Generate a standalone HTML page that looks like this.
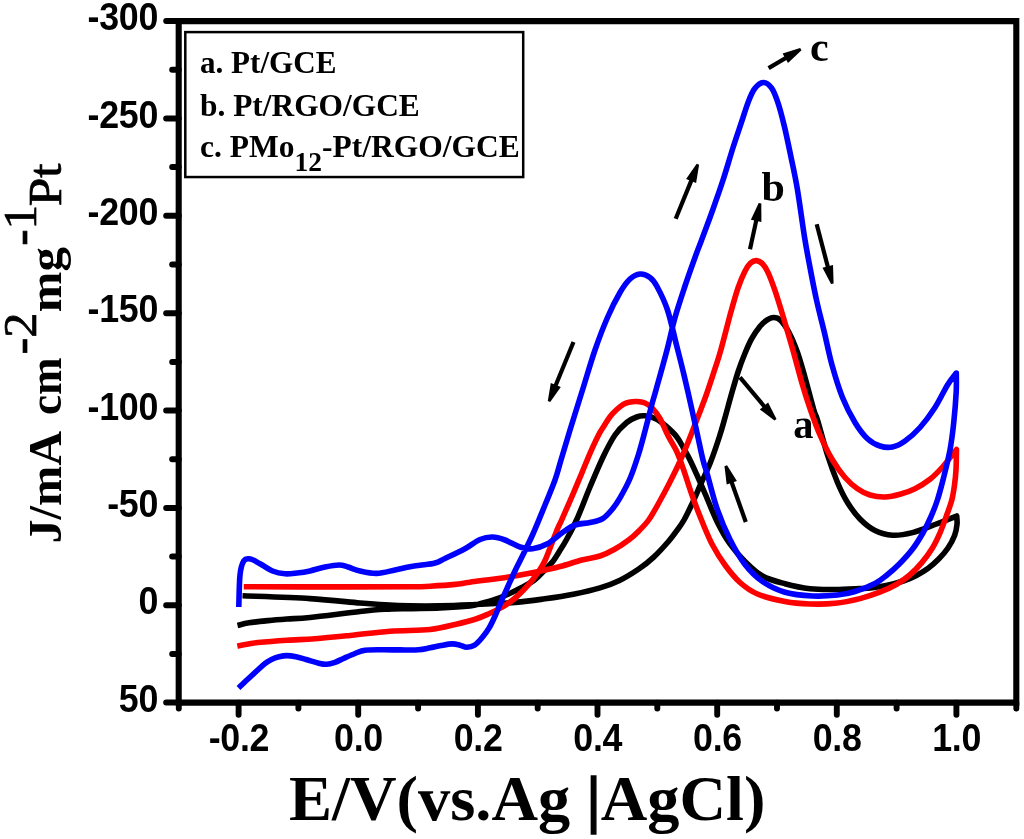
<!DOCTYPE html>
<html><head><meta charset="utf-8"><title>CV curves</title>
<style>
html,body{margin:0;padding:0;background:#fff;}
svg{display:block;}
text{fill:#000;}
.tk{font-family:"Liberation Sans",Arial,sans-serif;font-weight:bold;font-size:35.8px;letter-spacing:-0.3px;}
.xt{font-family:"Liberation Serif","Times New Roman",serif;font-weight:bold;font-size:63.5px;}
.yb{font-family:"Liberation Serif","Times New Roman",serif;font-weight:bold;font-size:46.5px;}
.yr{font-family:"Liberation Serif","Times New Roman",serif;font-weight:normal;font-size:46.5px;stroke:#000;stroke-width:0.7px;}
.lg{font-family:"Liberation Serif","Times New Roman",serif;font-weight:bold;font-size:31.5px;}
.lb{font-family:"Liberation Serif","Times New Roman",serif;font-weight:bold;font-size:42px;}
</style></head>
<body>
<svg width="1024" height="839" viewBox="0 0 1024 839">
<rect width="1024" height="839" fill="#fff"/>
<path d="M242.50 595.80 C253.75 596.27 290.42 597.40 310.00 598.60 C329.58 599.80 347.50 601.97 360.00 603.00 C372.50 604.03 376.67 604.33 385.00 604.80 C393.33 605.27 400.83 605.63 410.00 605.80 C419.17 605.97 430.00 605.97 440.00 605.80 C450.00 605.63 457.47 605.37 470.00 604.80 C482.53 604.23 502.70 603.40 515.20 602.40 C527.70 601.40 535.32 600.17 545.00 598.80 C554.68 597.43 564.13 596.02 573.30 594.20 C582.47 592.38 592.30 590.18 600.00 587.90 C607.70 585.62 612.98 583.68 619.50 580.50 C626.02 577.32 633.40 572.70 639.10 568.80 C644.80 564.90 648.82 561.65 653.70 557.10 C658.58 552.55 664.33 546.22 668.40 541.50 C672.47 536.78 675.50 532.38 678.10 528.80 C680.70 525.22 681.77 523.97 684.00 520.00 C686.23 516.03 688.67 511.08 691.50 505.00 C694.33 498.92 697.82 490.67 701.00 483.50 C704.18 476.33 707.55 469.75 710.60 462.00 C713.65 454.25 716.92 444.33 719.30 437.00 C721.68 429.67 722.90 425.03 724.90 418.00 C726.90 410.97 729.08 402.55 731.30 394.80 C733.52 387.05 735.95 378.33 738.20 371.50 C740.45 364.67 742.55 359.27 744.80 353.80 C747.05 348.33 749.18 343.27 751.70 338.70 C754.22 334.13 757.38 329.48 759.90 326.40 C762.42 323.32 764.52 321.68 766.80 320.20 C769.08 318.72 771.32 317.50 773.60 317.50 C775.88 317.50 777.93 317.70 780.50 320.20 C783.07 322.70 786.17 327.12 789.00 332.50 C791.83 337.88 794.83 345.00 797.50 352.50 C800.17 360.00 802.29 367.96 805.00 377.50 C807.71 387.04 811.67 402.67 813.75 409.75 C815.83 416.83 815.21 412.46 817.50 420.00 C819.79 427.54 824.17 444.58 827.50 455.00 C830.83 465.42 834.17 474.58 837.50 482.50 C840.83 490.42 843.75 496.42 847.50 502.50 C851.25 508.58 855.42 514.33 860.00 519.00 C864.58 523.67 869.58 527.80 875.00 530.50 C880.42 533.20 886.25 534.85 892.50 535.20 C898.75 535.55 905.42 534.38 912.50 532.60 C919.58 530.82 927.63 527.27 935.00 524.50 C942.37 521.73 953.08 517.42 956.70 516.00 C956.75 517.42 957.35 521.27 957.00 524.50 C956.65 527.73 956.13 531.45 954.60 535.40 C953.07 539.35 950.45 544.27 947.80 548.20 C945.15 552.13 941.97 555.67 938.70 559.00 C935.43 562.33 931.92 565.47 928.20 568.20 C924.48 570.93 920.55 573.27 916.40 575.40 C912.25 577.53 908.33 579.30 903.30 581.00 C898.27 582.70 891.67 584.43 886.20 585.60 C880.73 586.77 874.87 587.50 870.50 588.00 C866.13 588.50 865.92 588.35 860.00 588.60 C854.08 588.85 843.33 589.48 835.00 589.50 C826.67 589.52 818.33 589.71 810.00 588.75 C801.67 587.79 792.92 585.88 785.00 583.75 C777.08 581.62 769.17 579.71 762.50 576.00 C755.83 572.29 750.42 566.83 745.00 561.50 C739.58 556.17 734.58 550.50 730.00 544.00 C725.42 537.50 721.67 530.92 717.50 522.50 C713.33 514.08 708.47 501.50 705.00 493.50 C701.53 485.50 699.20 480.08 696.70 474.50 C694.20 468.92 692.23 464.47 690.00 460.00 C687.77 455.53 685.52 451.58 683.30 447.70 C681.08 443.82 679.47 440.20 676.70 436.70 C673.93 433.20 670.03 429.62 666.70 426.70 C663.37 423.78 660.32 421.02 656.70 419.20 C653.08 417.38 648.33 416.17 645.00 415.80 C641.67 415.43 639.75 415.88 636.70 417.00 C633.65 418.12 630.32 419.50 626.70 422.50 C623.08 425.50 618.90 429.33 615.00 435.00 C611.10 440.67 607.47 447.83 603.30 456.50 C599.13 465.17 594.38 476.58 590.00 487.00 C585.62 497.42 581.00 510.08 577.00 519.00 C573.00 527.92 569.00 535.00 566.00 540.50 C563.00 546.00 561.13 548.58 559.00 552.00 C556.87 555.42 555.03 558.57 553.20 561.00 C551.37 563.43 551.07 563.48 548.00 566.60 C544.93 569.72 539.18 576.22 534.80 579.70 C530.42 583.18 526.07 585.12 521.70 587.50 C517.33 589.88 513.05 592.00 508.60 594.00 C504.15 596.00 499.77 597.87 495.00 599.50 C490.23 601.13 484.17 602.72 480.00 603.80 C475.83 604.88 476.67 605.30 470.00 606.00 C463.33 606.70 450.00 607.57 440.00 608.00 C430.00 608.43 419.17 608.38 410.00 608.60 C400.83 608.82 393.33 608.82 385.00 609.30 C376.67 609.78 372.50 610.13 360.00 611.50 C347.50 612.87 322.17 616.25 310.00 617.50 C297.83 618.75 294.00 618.48 287.00 619.00 C280.00 619.52 274.33 619.97 268.00 620.60 C261.67 621.23 254.08 621.98 249.00 622.80 C243.92 623.62 239.42 625.05 237.50 625.50" fill="none" stroke="#000" stroke-width="5.6" stroke-linejoin="round" stroke-linecap="butt"/>
<path d="M243.75 586.80 C260.62 586.82 316.88 586.90 345.00 586.90 C373.12 586.90 398.33 586.92 412.50 586.80 C426.67 586.68 422.92 586.60 430.00 586.20 C437.08 585.80 448.33 585.07 455.00 584.40 C461.67 583.73 461.07 583.45 470.00 582.20 C478.93 580.95 497.80 578.57 508.60 576.90 C519.40 575.23 526.23 573.93 534.80 572.20 C543.37 570.47 552.18 568.53 560.00 566.50 C567.82 564.47 575.03 561.75 581.70 560.00 C588.37 558.25 594.52 557.78 600.00 556.00 C605.48 554.22 609.72 552.05 614.60 549.30 C619.48 546.55 625.22 542.60 629.30 539.50 C633.38 536.40 635.82 534.03 639.10 530.70 C642.38 527.37 645.68 524.20 649.00 519.50 C652.32 514.80 655.70 508.38 659.00 502.50 C662.30 496.62 665.55 490.53 668.80 484.20 C672.05 477.87 675.30 471.45 678.50 464.50 C681.70 457.55 684.75 450.47 688.00 442.50 C691.25 434.53 694.95 424.65 698.00 416.70 C701.05 408.75 703.40 403.02 706.30 394.80 C709.20 386.58 712.97 374.92 715.40 367.40 C717.83 359.88 718.28 359.05 720.90 349.70 C723.52 340.35 728.25 321.58 731.10 311.30 C733.95 301.02 735.72 294.63 738.00 288.00 C740.28 281.37 742.75 275.62 744.80 271.50 C746.85 267.38 748.35 265.12 750.30 263.30 C752.25 261.48 754.43 260.48 756.50 260.60 C758.57 260.72 760.75 261.95 762.70 264.00 C764.65 266.05 766.15 268.45 768.20 272.90 C770.25 277.35 772.50 283.38 775.00 290.70 C777.50 298.02 780.23 306.97 783.20 316.80 C786.17 326.63 789.58 338.33 792.80 349.70 C796.02 361.07 799.63 375.20 802.50 385.00 C805.37 394.80 807.08 400.17 810.00 408.50 C812.92 416.83 816.25 426.42 820.00 435.00 C823.75 443.58 828.33 452.92 832.50 460.00 C836.67 467.08 840.83 472.71 845.00 477.50 C849.17 482.29 853.33 485.83 857.50 488.75 C861.67 491.67 865.42 493.62 870.00 495.00 C874.58 496.38 880.00 497.12 885.00 497.00 C890.00 496.88 895.00 495.68 900.00 494.30 C905.00 492.92 910.00 491.20 915.00 488.70 C920.00 486.20 925.42 482.92 930.00 479.30 C934.58 475.68 938.08 471.97 942.50 467.00 C946.92 462.03 954.17 452.42 956.50 449.50 C956.42 452.92 956.33 464.08 956.00 470.00 C955.67 475.92 955.20 480.00 954.50 485.00 C953.80 490.00 953.13 494.88 951.80 500.00 C950.47 505.12 948.47 510.23 946.50 515.70 C944.53 521.17 942.40 527.33 940.00 532.80 C937.60 538.27 935.17 543.48 932.10 548.50 C929.03 553.52 925.32 558.48 921.60 562.90 C917.88 567.32 913.95 571.45 909.80 575.00 C905.65 578.55 901.72 581.33 896.70 584.20 C891.68 587.07 885.82 589.80 879.70 592.20 C873.58 594.60 867.45 596.75 860.00 598.60 C852.55 600.45 843.33 602.40 835.00 603.30 C826.67 604.20 818.33 604.30 810.00 604.00 C801.67 603.70 793.75 603.17 785.00 601.50 C776.25 599.83 765.00 597.17 757.50 594.00 C750.00 590.83 745.42 587.33 740.00 582.50 C734.58 577.67 729.58 571.25 725.00 565.00 C720.42 558.75 716.25 552.08 712.50 545.00 C708.75 537.92 705.83 530.58 702.50 522.50 C699.17 514.42 695.75 505.58 692.50 496.50 C689.25 487.42 685.67 475.58 683.00 468.00 C680.33 460.42 678.97 456.33 676.50 451.00 C674.03 445.67 670.95 441.42 668.20 436.00 C665.45 430.58 662.70 423.17 660.00 418.50 C657.30 413.83 654.50 410.58 652.00 408.00 C649.50 405.42 647.55 404.08 645.00 403.00 C642.45 401.92 639.37 401.63 636.70 401.50 C634.03 401.37 631.23 401.72 629.00 402.20 C626.77 402.68 625.38 403.13 623.30 404.40 C621.22 405.67 618.72 407.75 616.50 409.80 C614.28 411.85 612.08 414.00 610.00 416.70 C607.92 419.40 605.95 422.87 604.00 426.00 C602.05 429.13 600.63 430.95 598.30 435.50 C595.97 440.05 592.77 447.00 590.00 453.30 C587.23 459.60 584.48 466.63 581.70 473.30 C578.92 479.97 576.63 485.55 573.30 493.30 C569.97 501.05 564.58 513.27 561.70 519.80 C558.82 526.33 558.73 525.80 556.00 532.50 C553.27 539.20 548.38 553.23 545.30 560.00 C542.22 566.77 540.33 568.95 537.50 573.10 C534.67 577.25 532.02 580.75 528.30 584.90 C524.58 589.05 519.57 594.28 515.20 598.00 C510.83 601.72 506.47 604.58 502.10 607.20 C497.73 609.82 493.37 611.73 489.00 613.70 C484.63 615.67 481.37 617.25 475.90 619.00 C470.43 620.75 463.85 622.45 456.20 624.20 C448.55 625.95 441.03 628.33 430.00 629.50 C418.97 630.67 403.33 630.20 390.00 631.20 C376.67 632.20 362.50 634.23 350.00 635.50 C337.50 636.77 325.50 638.02 315.00 638.80 C304.50 639.58 296.50 639.58 287.00 640.20 C277.50 640.82 264.67 641.83 258.00 642.50 C251.33 643.17 250.45 643.62 247.00 644.20 C243.55 644.78 238.92 645.70 237.30 646.00" fill="none" stroke="#ff0000" stroke-width="5.6" stroke-linejoin="round" stroke-linecap="butt"/>
<path d="M238.50 688.00 C240.08 686.50 244.75 682.03 248.00 679.00 C251.25 675.97 255.17 672.38 258.00 669.80 C260.83 667.22 262.75 665.22 265.00 663.50 C267.25 661.78 269.17 660.62 271.50 659.50 C273.83 658.38 276.42 657.45 279.00 656.80 C281.58 656.15 284.17 655.60 287.00 655.60 C289.83 655.60 292.83 656.15 296.00 656.80 C299.17 657.45 302.33 658.47 306.00 659.50 C309.67 660.53 314.55 662.20 318.00 663.00 C321.45 663.80 323.87 664.42 326.70 664.30 C329.53 664.18 332.22 663.27 335.00 662.30 C337.78 661.33 340.07 659.97 343.40 658.50 C346.73 657.03 351.40 654.87 355.00 653.50 C358.60 652.13 360.55 650.92 365.00 650.30 C369.45 649.68 375.87 649.87 381.70 649.80 C387.53 649.73 393.88 649.90 400.00 649.90 C406.12 649.90 413.40 650.15 418.40 649.80 C423.40 649.45 426.23 648.52 430.00 647.80 C433.77 647.08 437.28 646.15 441.00 645.50 C444.72 644.85 449.13 643.95 452.30 643.90 C455.47 643.85 457.60 644.65 460.00 645.20 C462.40 645.75 464.27 647.20 466.70 647.20 C469.13 647.20 471.98 646.85 474.60 645.20 C477.22 643.55 480.00 640.13 482.40 637.30 C484.80 634.47 486.82 631.92 489.00 628.20 C491.18 624.48 493.32 619.82 495.50 615.00 C497.68 610.18 499.92 604.32 502.10 599.30 C504.28 594.28 506.42 589.70 508.60 584.90 C510.78 580.10 513.23 574.65 515.20 570.50 C517.17 566.35 517.52 565.92 520.40 560.00 C523.28 554.08 528.40 544.17 532.50 535.00 C536.60 525.83 541.25 514.17 545.00 505.00 C548.75 495.83 552.33 487.50 555.00 480.00 C557.67 472.50 558.50 468.33 561.00 460.00 C563.50 451.67 566.42 441.67 570.00 430.00 C573.58 418.33 578.33 403.33 582.50 390.00 C586.67 376.67 590.83 362.08 595.00 350.00 C599.17 337.92 603.33 327.08 607.50 317.50 C611.67 307.92 616.25 298.92 620.00 292.50 C623.75 286.08 626.67 282.08 630.00 279.00 C633.33 275.92 636.67 274.25 640.00 274.00 C643.33 273.75 647.17 275.42 650.00 277.50 C652.83 279.58 654.08 281.08 657.00 286.50 C659.92 291.92 664.25 300.25 667.50 310.00 C670.75 319.75 673.75 334.17 676.50 345.00 C679.25 355.83 681.42 364.17 684.00 375.00 C686.58 385.83 689.75 400.00 692.00 410.00 C694.25 420.00 695.67 426.67 697.50 435.00 C699.33 443.33 701.33 453.33 703.00 460.00 C704.67 466.67 705.17 466.92 707.50 475.00 C709.83 483.08 713.25 497.75 717.00 508.50 C720.75 519.25 725.33 530.17 730.00 539.50 C734.67 548.83 739.58 557.50 745.00 564.50 C750.42 571.50 755.83 576.88 762.50 581.50 C769.17 586.12 776.67 589.78 785.00 592.20 C793.33 594.62 803.75 595.53 812.50 596.00 C821.25 596.47 830.42 595.75 837.50 595.00 C844.58 594.25 848.75 593.42 855.00 591.50 C861.25 589.58 869.67 586.25 875.00 583.50 C880.33 580.75 882.95 578.25 887.00 575.00 C891.05 571.75 895.07 568.28 899.30 564.00 C903.53 559.72 908.47 554.47 912.40 549.30 C916.33 544.13 919.83 538.38 922.90 533.00 C925.97 527.62 928.38 522.50 930.80 517.00 C933.22 511.50 935.28 506.50 937.40 500.00 C939.52 493.50 941.40 486.33 943.50 478.00 C945.60 469.67 948.29 459.25 950.00 450.00 C951.71 440.75 952.72 432.17 953.75 422.50 C954.78 412.83 955.78 400.25 956.20 392.00 C956.62 383.75 956.28 376.17 956.30 373.00 C954.83 375.00 951.05 379.25 947.50 385.00 C943.95 390.75 939.58 400.42 935.00 407.50 C930.42 414.58 925.00 421.92 920.00 427.50 C915.00 433.08 909.58 437.75 905.00 441.00 C900.42 444.25 896.67 446.17 892.50 447.00 C888.33 447.83 884.17 447.38 880.00 446.00 C875.83 444.62 871.67 442.67 867.50 438.75 C863.33 434.83 859.17 429.38 855.00 422.50 C850.83 415.62 846.33 407.08 842.50 397.50 C838.67 387.92 835.00 375.75 832.00 365.00 C829.00 354.25 827.08 343.83 824.50 333.00 C821.92 322.17 818.92 310.92 816.50 300.00 C814.08 289.08 812.00 278.00 810.00 267.50 C808.00 257.00 806.62 250.12 804.50 237.00 C802.38 223.88 799.57 202.20 797.30 188.80 C795.03 175.40 793.05 166.98 790.90 156.60 C788.75 146.22 786.55 135.45 784.40 126.50 C782.25 117.55 780.15 109.33 778.00 102.90 C775.85 96.47 773.95 91.30 771.50 87.90 C769.05 84.50 766.15 82.32 763.30 82.50 C760.45 82.68 756.97 85.60 754.40 89.00 C751.83 92.40 750.05 97.37 747.90 102.90 C745.75 108.43 744.00 114.68 741.50 122.20 C739.00 129.72 735.98 138.33 732.90 148.00 C729.82 157.67 726.38 169.83 723.00 180.20 C719.62 190.57 716.17 200.23 712.60 210.20 C709.03 220.17 704.53 232.12 701.60 240.00 C698.67 247.88 697.77 249.83 695.00 257.50 C692.23 265.17 688.33 276.00 685.00 286.00 C681.67 296.00 678.00 306.83 675.00 317.50 C672.00 328.17 670.17 337.92 667.00 350.00 C663.83 362.08 658.55 380.83 656.00 390.00 C653.45 399.17 653.53 398.17 651.70 405.00 C649.87 411.83 647.23 422.67 645.00 431.00 C642.77 439.33 640.80 447.08 638.30 455.00 C635.80 462.92 633.05 471.37 630.00 478.50 C626.95 485.63 623.00 492.63 620.00 497.80 C617.00 502.97 614.92 506.01 612.00 509.50 C609.08 512.99 606.17 516.58 602.50 518.75 C598.83 520.92 594.58 521.46 590.00 522.50 C585.42 523.54 579.58 523.33 575.00 525.00 C570.42 526.67 567.08 529.38 562.50 532.50 C557.92 535.62 552.50 541.04 547.50 543.75 C542.50 546.46 537.08 548.21 532.50 548.75 C527.92 549.29 524.58 548.46 520.00 547.00 C515.42 545.54 509.58 541.67 505.00 540.00 C500.42 538.33 496.67 537.08 492.50 537.00 C488.33 536.92 484.58 537.54 480.00 539.50 C475.42 541.46 470.83 545.58 465.00 548.75 C459.17 551.92 450.00 556.12 445.00 558.50 C440.00 560.88 439.17 561.87 435.00 563.00 C430.83 564.13 424.17 564.68 420.00 565.30 C415.83 565.92 414.17 565.92 410.00 566.70 C405.83 567.48 400.55 568.88 395.00 570.00 C389.45 571.12 382.53 573.23 376.70 573.40 C370.87 573.57 364.78 572.07 360.00 571.00 C355.22 569.93 351.47 568.00 348.00 567.00 C344.53 566.00 343.03 565.00 339.20 565.00 C335.37 565.00 329.87 566.02 325.00 567.00 C320.13 567.98 314.67 569.90 310.00 570.90 C305.33 571.90 301.17 572.52 297.00 573.00 C292.83 573.48 289.08 574.13 285.00 573.80 C280.92 573.47 276.67 572.67 272.50 571.00 C268.33 569.33 263.67 565.75 260.00 563.75 C256.33 561.75 253.21 559.46 250.50 559.00 C247.79 558.54 245.50 558.33 243.75 561.00 C242.00 563.67 240.82 567.33 240.00 575.00 C239.18 582.67 239.00 601.67 238.80 607.00" fill="none" stroke="#0000ff" stroke-width="5.6" stroke-linejoin="round" stroke-linecap="butt"/>
<path d="M178.7 21.1 H1016.3 V702.6 H178.7 Z" fill="none" stroke="#000" stroke-width="6.1"/>
<line x1="166.2" x2="178.7" y1="21.1" y2="21.1" stroke="#000" stroke-width="6" stroke-linecap="round"/>
<line x1="172.2" x2="178.7" y1="69.8" y2="69.8" stroke="#000" stroke-width="6" stroke-linecap="round"/>
<line x1="166.2" x2="178.7" y1="118.4" y2="118.4" stroke="#000" stroke-width="6" stroke-linecap="round"/>
<line x1="172.2" x2="178.7" y1="167.1" y2="167.1" stroke="#000" stroke-width="6" stroke-linecap="round"/>
<line x1="166.2" x2="178.7" y1="215.8" y2="215.8" stroke="#000" stroke-width="6" stroke-linecap="round"/>
<line x1="172.2" x2="178.7" y1="264.5" y2="264.5" stroke="#000" stroke-width="6" stroke-linecap="round"/>
<line x1="166.2" x2="178.7" y1="313.2" y2="313.2" stroke="#000" stroke-width="6" stroke-linecap="round"/>
<line x1="172.2" x2="178.7" y1="361.9" y2="361.9" stroke="#000" stroke-width="6" stroke-linecap="round"/>
<line x1="166.2" x2="178.7" y1="410.5" y2="410.5" stroke="#000" stroke-width="6" stroke-linecap="round"/>
<line x1="172.2" x2="178.7" y1="459.2" y2="459.2" stroke="#000" stroke-width="6" stroke-linecap="round"/>
<line x1="166.2" x2="178.7" y1="507.9" y2="507.9" stroke="#000" stroke-width="6" stroke-linecap="round"/>
<line x1="172.2" x2="178.7" y1="556.6" y2="556.6" stroke="#000" stroke-width="6" stroke-linecap="round"/>
<line x1="166.2" x2="178.7" y1="605.2" y2="605.2" stroke="#000" stroke-width="6" stroke-linecap="round"/>
<line x1="172.2" x2="178.7" y1="653.9" y2="653.9" stroke="#000" stroke-width="6" stroke-linecap="round"/>
<line x1="166.2" x2="178.7" y1="702.6" y2="702.6" stroke="#000" stroke-width="6" stroke-linecap="round"/>
<line y1="702.6" y2="708.6" x1="178.8" x2="178.8" stroke="#000" stroke-width="5.9" stroke-linecap="round"/>
<line y1="702.6" y2="714.8" x1="238.6" x2="238.6" stroke="#000" stroke-width="5.9" stroke-linecap="round"/>
<line y1="702.6" y2="708.6" x1="298.4" x2="298.4" stroke="#000" stroke-width="5.9" stroke-linecap="round"/>
<line y1="702.6" y2="714.8" x1="358.2" x2="358.2" stroke="#000" stroke-width="5.9" stroke-linecap="round"/>
<line y1="702.6" y2="708.6" x1="418.1" x2="418.1" stroke="#000" stroke-width="5.9" stroke-linecap="round"/>
<line y1="702.6" y2="714.8" x1="477.9" x2="477.9" stroke="#000" stroke-width="5.9" stroke-linecap="round"/>
<line y1="702.6" y2="708.6" x1="537.7" x2="537.7" stroke="#000" stroke-width="5.9" stroke-linecap="round"/>
<line y1="702.6" y2="714.8" x1="597.5" x2="597.5" stroke="#000" stroke-width="5.9" stroke-linecap="round"/>
<line y1="702.6" y2="708.6" x1="657.3" x2="657.3" stroke="#000" stroke-width="5.9" stroke-linecap="round"/>
<line y1="702.6" y2="714.8" x1="717.2" x2="717.2" stroke="#000" stroke-width="5.9" stroke-linecap="round"/>
<line y1="702.6" y2="708.6" x1="777.0" x2="777.0" stroke="#000" stroke-width="5.9" stroke-linecap="round"/>
<line y1="702.6" y2="714.8" x1="836.8" x2="836.8" stroke="#000" stroke-width="5.9" stroke-linecap="round"/>
<line y1="702.6" y2="708.6" x1="896.6" x2="896.6" stroke="#000" stroke-width="5.9" stroke-linecap="round"/>
<line y1="702.6" y2="714.8" x1="956.4" x2="956.4" stroke="#000" stroke-width="5.9" stroke-linecap="round"/>
<line y1="702.6" y2="708.6" x1="1016.3" x2="1016.3" stroke="#000" stroke-width="5.9" stroke-linecap="round"/>
<text transform="translate(158 30.2) scale(1 1.105)" text-anchor="end" class="tk">-300</text>
<text transform="translate(158 127.5) scale(1 1.105)" text-anchor="end" class="tk">-250</text>
<text transform="translate(158 224.9) scale(1 1.105)" text-anchor="end" class="tk">-200</text>
<text transform="translate(158 322.3) scale(1 1.105)" text-anchor="end" class="tk">-150</text>
<text transform="translate(158 419.6) scale(1 1.105)" text-anchor="end" class="tk">-100</text>
<text transform="translate(158 517.0) scale(1 1.105)" text-anchor="end" class="tk">-50</text>
<text transform="translate(158 614.4) scale(1 1.105)" text-anchor="end" class="tk">0</text>
<text transform="translate(158 711.7) scale(1 1.105)" text-anchor="end" class="tk">50</text>
<text transform="translate(238.9 751) scale(1 1.105)" text-anchor="middle" class="tk">-0.2</text>
<text transform="translate(358.5 751) scale(1 1.105)" text-anchor="middle" class="tk">0.0</text>
<text transform="translate(478.2 751) scale(1 1.105)" text-anchor="middle" class="tk">0.2</text>
<text transform="translate(597.8 751) scale(1 1.105)" text-anchor="middle" class="tk">0.4</text>
<text transform="translate(717.5 751) scale(1 1.105)" text-anchor="middle" class="tk">0.6</text>
<text transform="translate(837.1 751) scale(1 1.105)" text-anchor="middle" class="tk">0.8</text>
<text transform="translate(956.7 751) scale(1 1.105)" text-anchor="middle" class="tk">1.0</text>
<text x="289" y="820" class="xt" textLength="476.5" lengthAdjust="spacingAndGlyphs">E/V(vs.Ag <tspan stroke="#000" stroke-width="1.4">|</tspan>AgCl)</text>
<text transform="translate(61.0 543.5) rotate(-90)" class="yb" textLength="112.5" lengthAdjust="spacingAndGlyphs">J/mA</text>
<text transform="translate(61.0 415.0) rotate(-90)" class="yb" textLength="57.5" lengthAdjust="spacingAndGlyphs">cm</text>
<text transform="translate(36.4 354.5) rotate(-90)" class="yr" textLength="42.0" lengthAdjust="spacingAndGlyphs"><tspan font-weight="bold">-</tspan>2</text>
<text transform="translate(61.0 312.2) rotate(-90)" class="yb" textLength="65.0" lengthAdjust="spacingAndGlyphs">mg</text>
<text transform="translate(36.4 245.8) rotate(-90)" class="yr" textLength="41.0" lengthAdjust="spacingAndGlyphs"><tspan font-weight="bold">-</tspan>1</text>
<text transform="translate(61.0 206.3) rotate(-90)" class="yr" textLength="42.9" lengthAdjust="spacingAndGlyphs">Pt</text>
<rect x="185.3" y="32.1" width="337.9" height="144.95" fill="#fff" stroke="#000" stroke-width="2.5"/>
<text x="200" y="73.4" class="lg" textLength="136.5" lengthAdjust="spacingAndGlyphs">a. Pt/GCE</text>
<text x="200" y="115.6" class="lg" textLength="219.8" lengthAdjust="spacingAndGlyphs">b. Pt/RGO/GCE</text>
<text x="200" y="157" class="lg">c. PMo<tspan dy="13.5" font-size="27.5">12</tspan><tspan dy="-13.5">-Pt/RGO/GCE</tspan></text>
<line x1="573.5" y1="342.0" x2="555.1" y2="386.8" stroke="#000" stroke-width="4.2"/><polygon points="547.8,401.1 550.2,402.1 560.8,387.0 550.8,382.9" fill="#000"/>
<line x1="675.7" y1="218.8" x2="691.9" y2="179.1" stroke="#000" stroke-width="4.2"/><polygon points="699.1,164.8 696.7,163.8 686.1,178.9 696.1,183.0" fill="#000"/>
<line x1="750.0" y1="249.2" x2="756.6" y2="218.9" stroke="#000" stroke-width="4.2"/><polygon points="761.3,203.6 758.7,203.0 750.9,219.7 761.4,222.0" fill="#000"/>
<line x1="768.6" y1="68.1" x2="787.0" y2="57.2" stroke="#000" stroke-width="4.2"/><polygon points="801.5,50.2 800.1,48.0 782.6,53.6 788.0,62.9" fill="#000"/>
<line x1="816.7" y1="224.2" x2="828.2" y2="268.3" stroke="#000" stroke-width="4.2"/><polygon points="831.0,284.1 833.6,283.5 833.0,265.0 822.5,267.8" fill="#000"/>
<line x1="740.0" y1="377.3" x2="765.2" y2="407.5" stroke="#000" stroke-width="4.2"/><polygon points="774.5,420.6 776.5,419.0 768.1,402.5 759.8,409.4" fill="#000"/>
<line x1="745.8" y1="522.0" x2="731.1" y2="480.8" stroke="#000" stroke-width="4.2"/><polygon points="727.0,465.3 724.5,466.2 726.7,484.5 736.9,480.9" fill="#000"/>
<text x="810" y="60.5" class="lb">c</text>
<text x="761.5" y="200.5" class="lb">b</text>
<text x="793.3" y="438" class="lb" style="font-size:40.5px">a</text>
</svg>
</body></html>
